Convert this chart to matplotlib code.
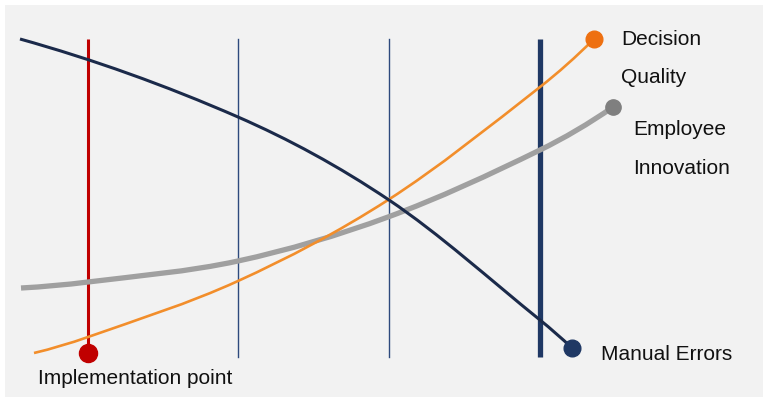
import matplotlib

matplotlib.use("Agg")
import matplotlib.pyplot as plt
from matplotlib.path import Path
from matplotlib.patches import PathPatch

plt.rcParams["font.family"] = ["Liberation Sans", "DejaVu Sans"]

# points (pixel-like units, y grows downward)
errors_x = [20, 238, 389, 540, 572]
errors_y = [39, 117, 200, 320, 348]

quality_x = [34, 88, 238, 388, 540, 594]
quality_y = [353, 337, 281, 200, 87, 39]

innovation_x = [21, 88, 238, 388, 540, 613]
innovation_y = [288, 282, 261, 217, 150, 107]

impl_x = 88
stage_x = [238, 389]
milestone_x = 540
line_top = 39
line_bottom = 357
impl_bottom = 353

NAVY = "#1b2a4a"
NAVY_MID = "#2e4a7d"
NAVY_BOLD = "#1f3864"
ORANGE = "#f28e2b"
ORANGE_DOT = "#ee7011"
GREY = "#a0a0a0"
GREY_DOT = "#7f7f7f"
RED = "#c00000"


def smooth_path(xs, ys):
    # smoothed line through the given points: cubic Hermite pieces drawn as Bezier segments
    n = len(xs)
    secant = [(ys[i + 1] - ys[i]) / (xs[i + 1] - xs[i]) for i in range(n - 1)]
    slopes = [0.0] * n
    for i in range(1, n - 1):
        slopes[i] = (ys[i + 1] - ys[i - 1]) / (xs[i + 1] - xs[i - 1])
    slopes[0] = 2 * secant[0] - slopes[1]
    slopes[-1] = 2 * secant[-1] - slopes[-2]
    verts = [(xs[0], ys[0])]
    codes = [Path.MOVETO]
    for i in range(n - 1):
        d = (xs[i + 1] - xs[i]) / 3
        verts += [(xs[i] + d, ys[i] + slopes[i] * d),
                  (xs[i + 1] - d, ys[i + 1] - slopes[i + 1] * d),
                  (xs[i + 1], ys[i + 1])]
        codes += [Path.CURVE4] * 3
    return Path(verts, codes)


def draw_curve(ax, xs, ys, color, lw, z):
    patch = PathPatch(smooth_path(xs, ys), facecolor="none", edgecolor=color, lw=lw, zorder=z,
                      capstyle="butt", joinstyle="round")
    ax.add_patch(patch)


W, H = 768, 403
fig = plt.figure(figsize=(W / 100, H / 100), dpi=100)
fig.patch.set_facecolor("white")
ax = fig.add_axes([5 / W, (H - 397) / H, 758 / W, 392 / H])
ax.set_facecolor("#f2f2f2")
ax.set_xlim(5, 763)
ax.set_ylim(397, 5)
ax.set_xticks([])
ax.set_yticks([])
for s in ax.spines.values():
    s.set_visible(False)

# vertical markers
for x in stage_x:
    ax.plot([x, x], [line_top, line_bottom], color=NAVY_MID, lw=1.0, zorder=2)
ax.plot([milestone_x, milestone_x], [line_top, line_bottom], color=NAVY_BOLD, lw=3.8, zorder=2,
        solid_capstyle="butt")
ax.plot([impl_x, impl_x], [line_top, impl_bottom], color=RED, lw=2.2, zorder=3, solid_capstyle="butt")
ax.plot(impl_x, impl_bottom, "o", color=RED, ms=13, zorder=6)

# curves
draw_curve(ax, innovation_x, innovation_y, GREY, 3.8, 4)
ax.plot(innovation_x[-1], innovation_y[-1], "o", color=GREY_DOT, ms=11, zorder=6)

draw_curve(ax, quality_x, quality_y, ORANGE, 1.9, 5)
ax.plot(quality_x[-1], quality_y[-1], "o", color=ORANGE_DOT, ms=12, zorder=6)

draw_curve(ax, errors_x, errors_y, NAVY, 2.2, 5)
ax.plot(errors_x[-1], errors_y[-1], "o", color=NAVY_BOLD, ms=12, zorder=6)

# labels
fs = 15
ax.text(621, 45, "Decision", fontsize=fs, va="baseline", color="#111111")
ax.text(621, 83, "Quality", fontsize=fs, va="baseline", color="#111111")
ax.text(633, 135, "Employee", fontsize=fs, va="baseline", color="#111111")
ax.text(633, 174, "Innovation", fontsize=fs, va="baseline", color="#111111")
ax.text(601, 360, "Manual Errors", fontsize=fs, va="baseline", color="#111111")
ax.text(38, 384, "Implementation point", fontsize=fs, va="baseline", color="#111111")

fig.savefig("out.png", dpi=100, facecolor=fig.get_facecolor())
